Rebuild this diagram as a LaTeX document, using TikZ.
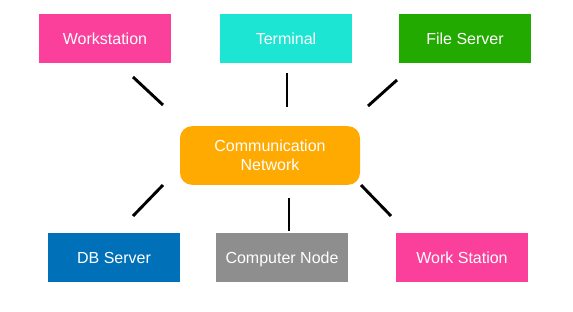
\documentclass[tikz,border=0pt]{standalone}
\usepackage{fontspec}
\setmainfont{Liberation Sans}
\definecolor{cpink}{HTML}{FA409A}
\definecolor{ccyan}{HTML}{1CE6D3}
\definecolor{cgreen}{HTML}{22AA00}
\definecolor{corange}{HTML}{FFAA00}
\definecolor{cblue}{HTML}{0071B8}
\definecolor{cgray}{HTML}{8E8E8E}
\begin{document}
\begin{tikzpicture}[x=0.75pt,y=-0.75pt,
  box/.style={minimum width=99pt,minimum height=36.75pt,inner sep=0pt,text=white,font=\fontsize{12}{14}\selectfont,align=center},
  onebox/.style={box,text height=9pt,text depth=0pt},
  link/.style={line width=2.2pt,black}]
\useasboundingbox (0,0) rectangle (573,311);
\node[onebox,fill=cpink] (ws) at (105,38.5) {Workstation};
\node[onebox,fill=ccyan] (term) at (286,38.5) {Terminal};
\node[onebox,fill=cgreen] (fs) at (465,38.5) {File Server};
\node[box,fill=corange,minimum width=135pt,minimum height=44pt,rounded corners=9pt] (cn) at (270,155.5) {Communication\\Network};
\node[onebox,fill=cblue] (db) at (114,257.5) {DB Server};
\node[onebox,fill=cgray] (cnode) at (282,257.5) {Computer Node};
\node[onebox,fill=cpink] (wst) at (462,257.5) {Work Station};
\coordinate (a1) at (133,77); \coordinate (a2) at (163,105);
\coordinate (b1) at (287,73); \coordinate (b2) at (287,107);
\coordinate (c1) at (397,80); \coordinate (c2) at (368,106);
\coordinate (d1) at (163,185); \coordinate (d2) at (133,216);
\coordinate (e1) at (289,198); \coordinate (e2) at (289,231);
\coordinate (f1) at (361,185); \coordinate (f2) at (391,216);
\draw[link] (a1) -- (a2);
\draw[link] (b1) -- (b2);
\draw[link] (c1) -- (c2);
\draw[link] (d1) -- (d2);
\draw[link] (e1) -- (e2);
\draw[link] (f1) -- (f2);
\end{tikzpicture}
\end{document}
